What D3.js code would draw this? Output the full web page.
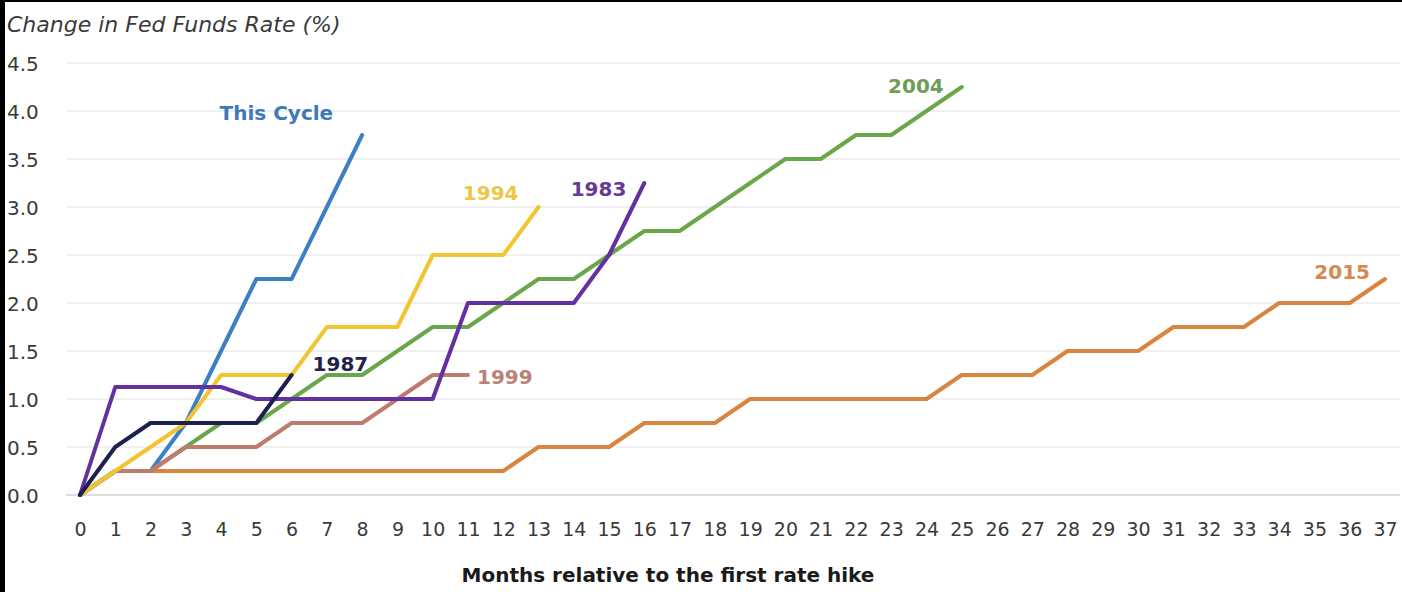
<!DOCTYPE html>
<html>
<head>
<meta charset="utf-8">
<script src="https://cdn.jsdelivr.net/npm/d3@7/dist/d3.min.js"></script>
<style>
  html, body { margin: 0; padding: 0; background: #fff; }
  svg { display: block; }
  text { font-family: "DejaVu Sans", sans-serif; }
</style>
</head>
<body>
<svg id="chart" width="1402" height="592"></svg>
<script>
// ---- data ----
const months = d3.range(0, 38);
const yTicks = [0, 0.5, 1.0, 1.5, 2.0, 2.5, 3.0, 3.5, 4.0, 4.5];

const cycle1983 = [0, 1.125, 1.125, 1.125, 1.125, 1.0, 1.0, 1.0, 1.0, 1.0, 1.0, 2.0, 2.0, 2.0, 2.0, 2.5, 3.25];
const cycle1987 = [0, 0.5, 0.75, 0.75, 0.75, 0.75, 1.25];
const cycle1994 = [0, 0.25, 0.5, 0.75, 1.25, 1.25, 1.25, 1.75, 1.75, 1.75, 2.5, 2.5, 2.5, 3.0];
const cycle1999 = [0, 0.25, 0.25, 0.5, 0.5, 0.5, 0.75, 0.75, 0.75, 1.0, 1.25, 1.25];
const cycle2004 = [0, 0.25, 0.25, 0.5, 0.75, 0.75, 1.0, 1.25, 1.25, 1.5, 1.75, 1.75, 2.0, 2.25, 2.25, 2.5, 2.75, 2.75, 3.0, 3.25, 3.5, 3.5, 3.75, 3.75, 4.0, 4.25];
const cycle2015 = [0, 0.25, 0.25, 0.25, 0.25, 0.25, 0.25, 0.25, 0.25, 0.25, 0.25, 0.25, 0.25, 0.5, 0.5, 0.5, 0.75, 0.75, 0.75, 1.0, 1.0, 1.0, 1.0, 1.0, 1.0, 1.25, 1.25, 1.25, 1.5, 1.5, 1.5, 1.75, 1.75, 1.75, 2.0, 2.0, 2.0, 2.25];
const thisCycle = [0, 0.25, 0.25, 0.75, 1.5, 2.25, 2.25, 3.0, 3.75];

const seriesNames = ["2015", "2004", "This Cycle", "1999", "1994", "1983", "1987"];
const seriesValues = [cycle2015, cycle2004, thisCycle, cycle1999, cycle1994, cycle1983, cycle1987];
const seriesColors = ["#d9843f", "#6aa64a", "#3b80c4", "#bf7b6e", "#f3c432", "#6330a0", "#1c2050"];
const labelColors  = ["#d38a55", "#6e9e55", "#3d78b8", "#bd7f76", "#eec64a", "#663a98", "#1f2448"];

// ---- layout ----
const svg = d3.select("#chart");
const W = 1402, H = 592;
const x = d3.scaleLinear().domain([0, 37]).range([80, 1385]);
const y = d3.scaleLinear().domain([0, 4.5]).range([495, 63]);

svg.append("rect").attr("width", W).attr("height", H).attr("fill", "#fff");

// gridlines
svg.append("g").selectAll("line").data(yTicks).join("line")
  .attr("x1", 66).attr("x2", 1400)
  .attr("y1", d => y(d)).attr("y2", d => y(d))
  .attr("stroke", d => d === 0 ? "#dcdcdc" : "#ebebeb")
  .attr("stroke-width", d => d === 0 ? 2 : 1.5);

// y tick labels
const yAxis = d3.axisLeft(y).tickValues(yTicks).tickFormat(d3.format(".1f")).tickSize(0).tickPadding(0);
const gy = svg.append("g").attr("transform", "translate(7,0)").call(yAxis);
gy.select(".domain").remove();
gy.selectAll("text").attr("text-anchor", "start").attr("x", 0).attr("dy", "0.36em")
  .attr("font-size", 20).attr("fill", "#3a3a3a").style("font-family", "'DejaVu Sans', sans-serif");

// x tick labels
const xAxis = d3.axisBottom(x).tickValues(months).tickFormat(d3.format("d")).tickSize(0).tickPadding(0);
const gx = svg.append("g").attr("transform", "translate(0,529)").call(xAxis);
gx.select(".domain").remove();
gx.selectAll("text").attr("y", 0).attr("dy", "0.36em")
  .attr("font-size", 19).attr("fill", "#3a3a3a").style("font-family", "'DejaVu Sans', sans-serif");

// title
svg.append("text").attr("x", 7).attr("y", 24).attr("dy", "0.36em")
  .attr("font-size", 22).attr("font-style", "italic").attr("fill", "#3a3a3a")
  .text("Change in Fed Funds Rate (%)");

// x axis title
svg.append("text").attr("x", 668).attr("y", 575).attr("dy", "0.36em")
  .attr("text-anchor", "middle").attr("font-size", 20).attr("font-weight", "bold").attr("fill", "#1a1a1a")
  .text("Months relative to the first rate hike");

// lines
const line = d3.line().x((d, i) => x(i)).y(d => y(d));
svg.append("g").selectAll("path").data(seriesValues).join("path")
  .attr("d", d => line(d))
  .attr("fill", "none")
  .attr("stroke", (d, i) => seriesColors[i])
  .attr("stroke-width", 4)
  .attr("stroke-linejoin", "round")
  .attr("stroke-linecap", "round");

// labels positioned relative to series end points
const labelOffsets = {
  "This Cycle": { anchor: "end", dx: -29, dy: -22 },
  "1994": { anchor: "end", dx: -20, dy: -14 },
  "1983": { anchor: "end", dx: -18, dy: 6 },
  "2004": { anchor: "end", dx: -18, dy: -1 },
  "2015": { anchor: "end", dx: -15, dy: -7 },
  "1987": { anchor: "start", dx: 21, dy: -11 },
  "1999": { anchor: "start", dx: 9, dy: 2 }
};
seriesNames.forEach((name, i) => {
  const vals = seriesValues[i];
  const last = vals.length - 1;
  const o = labelOffsets[name];
  svg.append("text")
    .attr("x", x(last) + o.dx)
    .attr("y", y(vals[last]) + o.dy)
    .attr("dy", "0.36em")
    .attr("text-anchor", o.anchor)
    .attr("font-size", 20).attr("font-weight", "bold")
    .attr("fill", labelColors[i])
    .text(name);
});

// photo frame edges
svg.append("rect").attr("x", 0).attr("y", 0).attr("width", 5).attr("height", H).attr("fill", "#000");
svg.append("rect").attr("x", 0).attr("y", 0).attr("width", W).attr("height", 2).attr("fill", "#000");
</script>
</body>
</html>
